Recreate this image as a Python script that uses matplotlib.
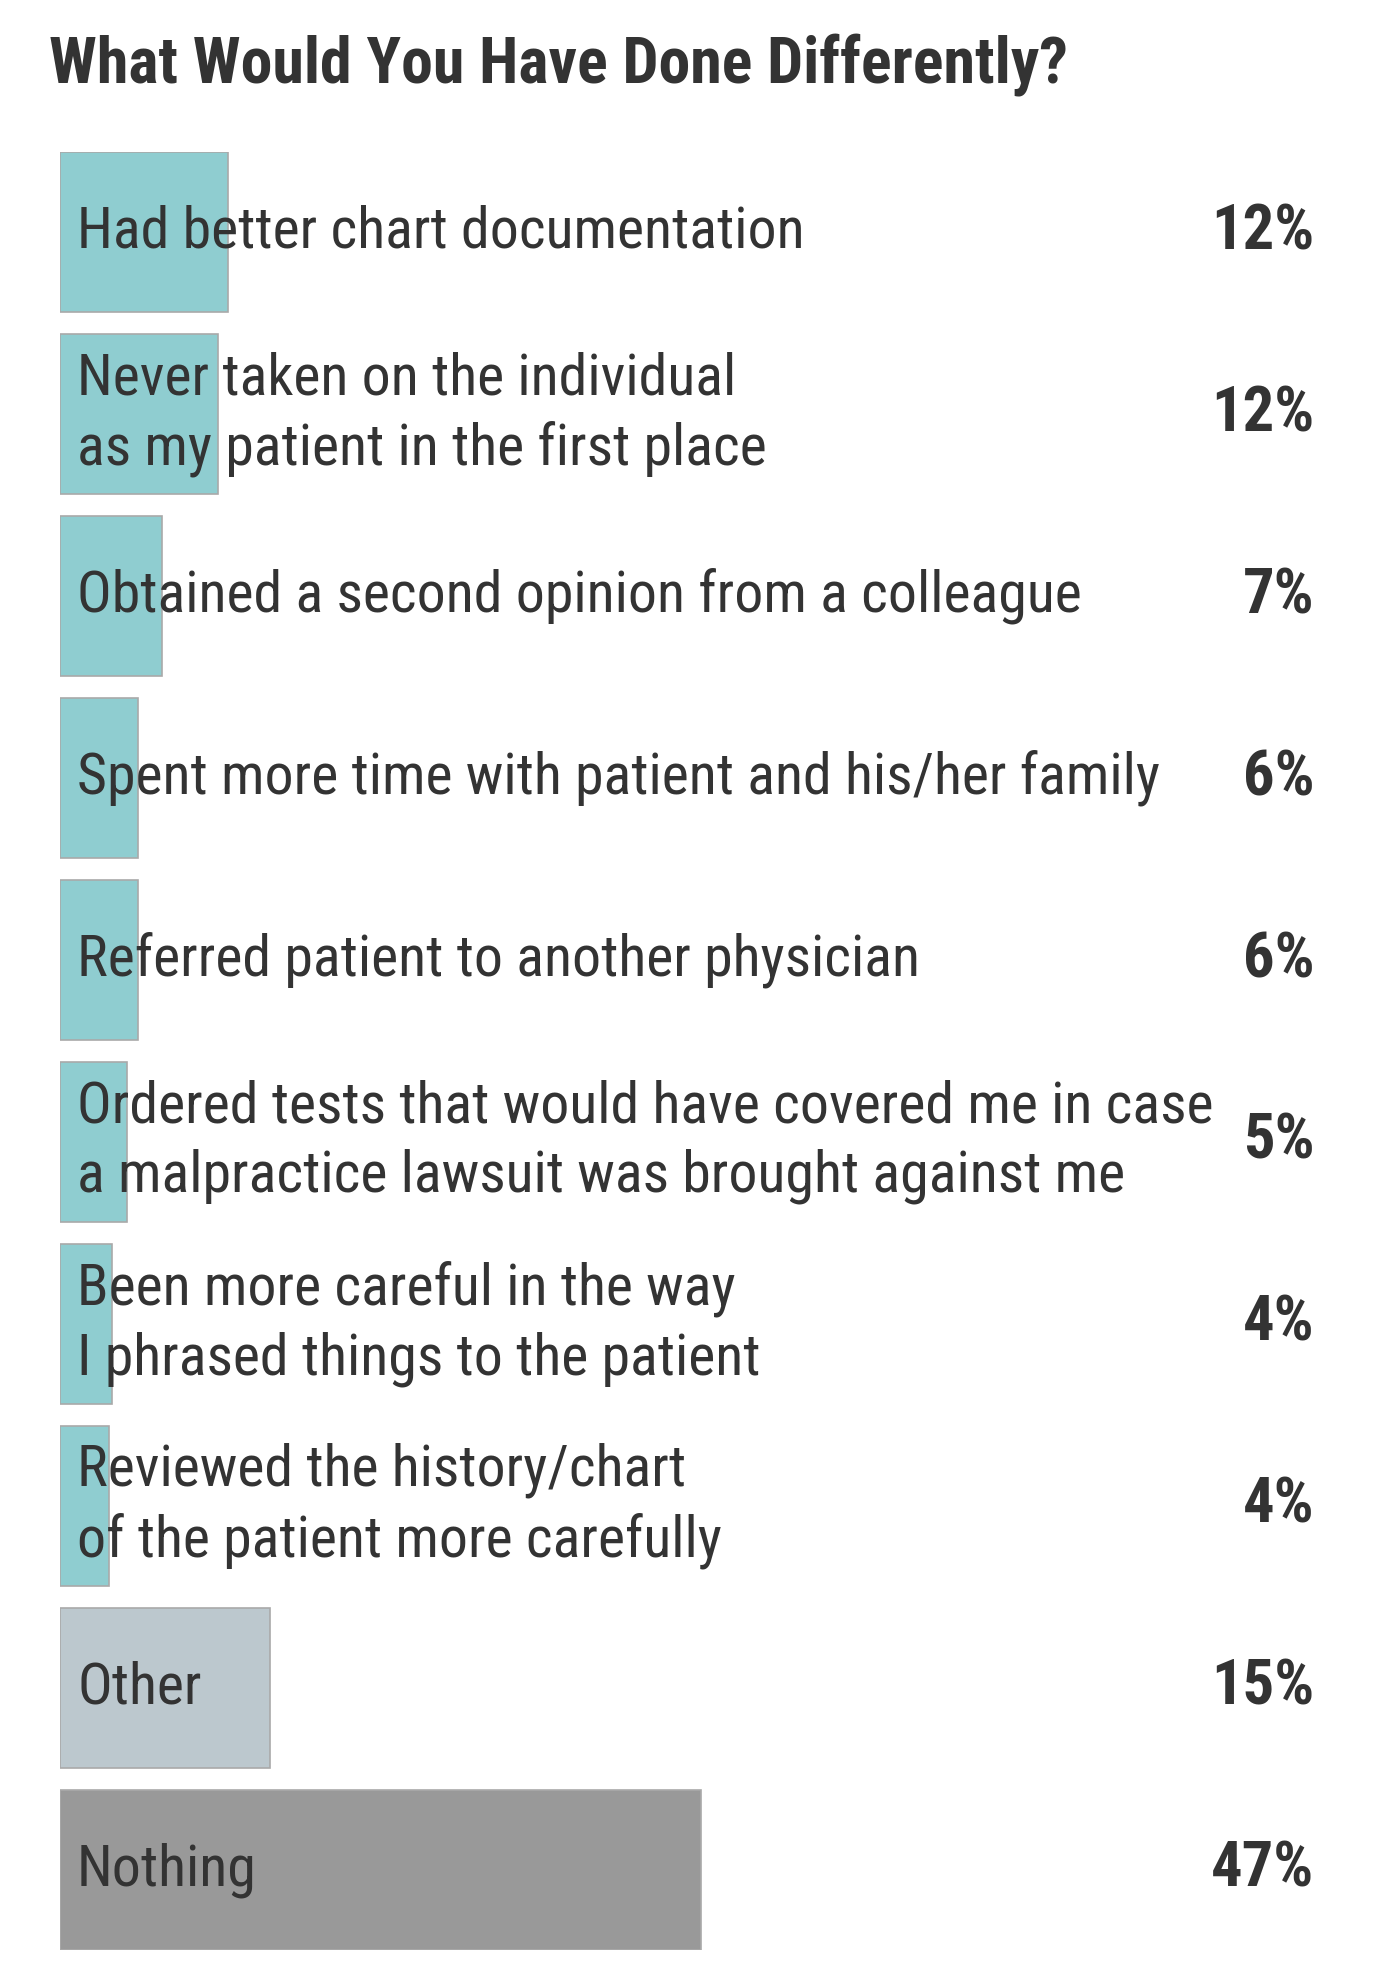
import matplotlib
matplotlib.use('Agg')
import matplotlib.pyplot as plt
import matplotlib.transforms as mtransforms

# Survey answers, top to bottom
answers = [
    "Had better chart documentation",
    "Never taken on the individual\nas my patient in the first place",
    "Obtained a second opinion from a colleague",
    "Spent more time with patient and his/her family",
    "Referred patient to another physician",
    "Ordered tests that would have covered me in case\na malpractice lawsuit was brought against me",
    "Been more careful in the way\nI phrased things to the patient",
    "Reviewed the history/chart\nof the patient more carefully",
    "Other",
    "Nothing",
]
# bar lengths
shares = [12.3, 11.6, 7.5, 5.7, 5.7, 4.9, 3.8, 3.6, 15.4, 47.0]
shown = ["12%", "12%", "7%", "6%", "6%", "5%", "4%", "4%", "15%", "47%"]
groups = ["main"] * 8 + ["other", "nothing"]

colours = {"main": "#8fcdd0", "other": "#bcc8ce", "nothing": "#999999"}
text_col = "#333333"

plt.rcParams['font.family'] = ["Roboto Condensed", "Roboto", "DejaVu Sans"]

W, H = 1380, 1982
fig = plt.figure(figsize=(W / 100, H / 100), dpi=100)
# plot area: bars from y=152 to y=1950 px, x from 60 px
ax = fig.add_axes([60 / W, (H - 1950) / H, 1320 / W, 1798 / H])

bar_h = 0.882
rows = list(range(len(answers)))
ax.barh(rows, shares, height=bar_h,
        color=[colours[g] for g in groups],
        edgecolor="#a9a9a9", linewidth=1.2, zorder=1)

ax.set_xlim(0, 1320 / 13.63)
ax.set_ylim(len(answers) - 1 + bar_h / 2, -bar_h / 2)
ax.axis("off")

trans = mtransforms.blended_transform_factory(ax.transAxes, ax.transData)
for i, (lab, pct) in enumerate(zip(answers, shown)):
    ax.text(0.0129, i, lab, transform=trans, ha="left", va="center",
            fontsize=41.7, color=text_col, linespacing=1.33, zorder=3)
    ax.text(0.9503, i, pct, transform=trans, ha="right", va="center",
            fontsize=45, color=text_col, fontweight="bold", zorder=3)

fig.text(49 / W, 1 - 82 / H, "What Would You Have Done Differently?",
         ha="left", va="baseline", fontsize=46, fontweight="bold",
         color=text_col)

fig.savefig("out.png", dpi=100, facecolor="white")
